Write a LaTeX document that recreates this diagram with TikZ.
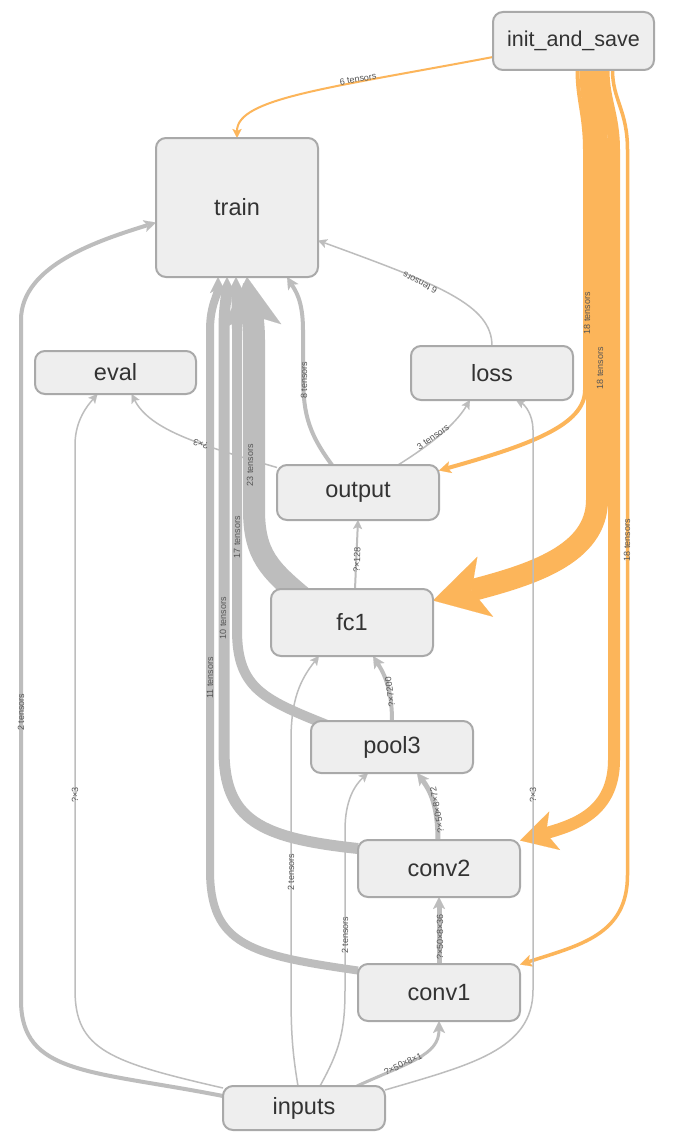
\documentclass[tikz,border=0pt]{standalone}
\usepackage{fontspec}
\setmainfont{Liberation Sans}
\usetikzlibrary{arrows.meta,backgrounds}
\definecolor{nodefill}{HTML}{EEEEEE}
\definecolor{nodeline}{HTML}{A9A9A9}
\definecolor{edgegray}{HTML}{BDBDBD}
\definecolor{edgeorange}{HTML}{FCB55A}
\definecolor{txt}{HTML}{333333}
\definecolor{lbl}{HTML}{555555}
\begin{document}
\begin{tikzpicture}[x=1pt,y=-1pt,
  opnode/.style={draw=nodeline,fill=nodefill,line width=2pt,rounded corners=10pt,
    font=\fontsize{23.5}{26}\selectfont,text=txt,inner sep=0pt,outer sep=0pt},
  gedge/.style={draw=edgegray},
  oedge/.style={draw=edgeorange},
  elabel/.style={font=\fontsize{9}{10}\selectfont,text=lbl,inner sep=0.5pt},
  tipS/.style={-{Stealth[length=9pt,width=9pt,inset=2pt,line width=0.1pt]}},
  tipM/.style={-{Stealth[length=12pt,width=12pt,inset=3pt,line width=0.1pt]}},
  tipL/.style={-{Stealth[length=16pt,width=16pt,inset=4pt,line width=0.1pt]}},
  tipXL/.style={-{Stealth[length=50pt,width=60pt,inset=12pt,line width=0.1pt]}},
  tipOL/.style={-{Stealth[length=36pt,width=40pt,inset=9pt,line width=0.1pt]}},
  tipOXL/.style={-{Stealth[length=54pt,width=62pt,inset=14pt,line width=0.1pt]}}
]
\useasboundingbox (0,0) rectangle (676,1148);

% nodes
\node[opnode,minimum width=161pt,minimum height=58pt,font=\fontsize{21.5}{24}\selectfont] (init) at (573.5,41) {init\_and\_save};
\node[opnode,minimum width=162pt,minimum height=139pt] (train) at (237,207.5) {train};
\node[opnode,minimum width=161pt,minimum height=43pt] (eval) at (115.5,372.5) {eval};
\node[opnode,minimum width=162pt,minimum height=54pt] (loss) at (492,373) {loss};
\node[opnode,minimum width=162pt,minimum height=55pt] (output) at (358,492.5) {output};
\node[opnode,minimum width=162pt,minimum height=67pt] (fc1) at (352,622.5) {fc1};
\node[opnode,minimum width=162pt,minimum height=52pt] (pool3) at (392,747) {pool3};
\node[opnode,minimum width=162pt,minimum height=57pt] (conv2) at (439,868.5) {conv2};
\node[opnode,minimum width=162pt,minimum height=57pt] (conv1) at (439,992.5) {conv1};
\node[opnode,minimum width=162pt,minimum height=44pt] (inputs) at (304,1108) {inputs};

\begin{scope}[on background layer]
\fill[white] (0,0) rectangle (676,1148);

% orange edges from init_and_save
\draw[oedge,line width=3.5pt,tipM] ([xshift=39pt]init.south) .. controls (612.5,100) and (627.5,110) .. (627.5,150) -- (627.5,875) .. controls (627.5,935) and (580,945) .. ([yshift=28pt]conv1.east);
\draw[oedge,line width=12pt,tipOL] ([xshift=30pt]init.south) .. controls (603.5,100) and (614,115) .. (614,150) -- (614,760) .. controls (614,812) and (575,825) .. ([yshift=28pt]conv2.east);
\draw[oedge,line width=22pt,tipOXL] ([xshift=17pt]init.south) .. controls (590.5,100) and (597,115) .. (597,150) -- (597,500) .. controls (597,555) and (530,575) .. ([yshift=22pt]fc1.east);
\draw[oedge,line width=4pt,tipM] ([xshift=4pt]init.south) .. controls (577.5,100) and (585,115) .. (585,150) -- (585,390) .. controls (585,425) and (530,445) .. ([yshift=22pt]output.east);
\draw[oedge,line width=2pt,tipS] ([yshift=-16pt]init.west) .. controls (330,88) and (237,98) .. (train.north);

% gray edges into train
\draw[gedge,line width=1.5pt,tipS] (loss.north) .. controls (492,305) and (440,285) .. ([yshift=-33pt]train.east);
\draw[gedge,line width=4pt,tipM] ([xshift=-26pt]output.north) .. controls (306,430) and (303,410) .. (303,370) -- (303,330) .. controls (303,300) and (295,290) .. ([xshift=50pt]train.south);
\draw[gedge,line width=8pt,tipL] ([yshift=22pt]conv1.west) .. controls (250,955) and (210,945) .. (210,870) -- (210,330) .. controls (210,305) and (218,295) .. ([xshift=-19pt]train.south);
\draw[gedge,line width=11pt,tipL] ([yshift=20pt]conv2.west) .. controls (260,838) and (224,820) .. (224,750) -- (224,330) .. controls (224,305) and (227,295) .. ([xshift=-10pt]train.south);
\draw[gedge,line width=10pt,tipL] ([xshift=-60pt,yshift=-6pt]pool3.north) .. controls (265,700) and (237,690) .. (237,630) -- (237,330) .. controls (237,305) and (236,295) .. ([xshift=-1pt]train.south);
\draw[gedge,line width=22pt,tipXL] ([xshift=-50pt,yshift=-8pt]fc1.north) .. controls (270,570) and (254,555) .. (254,510) -- (254,340) .. controls (254,315) and (249,300) .. ([xshift=10pt]train.south);
\draw[gedge,line width=4pt,tipM] ([yshift=12pt]inputs.west) .. controls (90,1070) and (21,1075) .. (21,1000) -- (21,320) .. controls (21,265) and (100,240) .. ([yshift=-15pt]train.west);

% eval, loss, output
\draw[gedge,line width=1.5pt,tipS] ([yshift=20pt]inputs.west) .. controls (110,1062) and (75,1050) .. (75,990) -- (75,445) .. controls (75,420) and (88,405) .. ([xshift=-18pt]eval.south);
\draw[gedge,line width=1.5pt,tipS] ([yshift=25pt]output.west) .. controls (200,445) and (150,430) .. ([xshift=16pt]eval.south);
\draw[gedge,line width=1.5pt,tipS] ([xshift=40pt]output.north) .. controls (430,445) and (455,425) .. ([xshift=-22pt]loss.south);
\draw[gedge,line width=1.5pt,tipS] ([yshift=18pt]inputs.east) .. controls (470,1065) and (533,1050) .. (533,990) -- (533,430) .. controls (533,415) and (525,405) .. ([xshift=24pt]loss.south);

% main chain
\draw[gedge,line width=2pt,tipS] ([xshift=3pt]fc1.north) -- (output.south);
\draw[gedge,line width=4pt,tipM] (pool3.north) .. controls (392,690) and (385,675) .. ([xshift=21pt]fc1.south);
\draw[gedge,line width=5pt,tipM] ([xshift=-1pt]conv2.north) .. controls (438,805) and (430,790) .. ([xshift=25pt]pool3.south);
\draw[gedge,line width=5pt,tipM] (conv1.north) -- (conv2.south);
\draw[gedge,line width=3pt,tipM] ([xshift=53pt]inputs.north) .. controls (410,1062) and (439,1055) .. (conv1.south);
\draw[gedge,line width=1.5pt,tipS] ([xshift=-6pt]inputs.north) .. controls (292,1050) and (291,1030) .. (291,990) -- (291,740) .. controls (291,700) and (300,680) .. ([xshift=-33pt]fc1.south);
\draw[gedge,line width=1.5pt,tipS] ([xshift=16pt]inputs.north) .. controls (340,1050) and (345,1030) .. (345,990) -- (345,830) .. controls (345,800) and (355,785) .. ([xshift=-24pt]pool3.south);

% labels
\node[elabel,rotate=10] (l1) at (358,79) {6 tensors};
\node[elabel,rotate=153] (l2) at (420,283) {6 tensors};
\node[elabel,rotate=90] (l3) at (304,380) {8 tensors};
\node[elabel,rotate=90] (l4) at (250,465) {23 tensors};
\node[elabel,rotate=90] (l5) at (237,537) {17 tensors};
\node[elabel,rotate=90] (l6) at (223,618) {10 tensors};
\node[elabel,rotate=90] (l7) at (210,678) {11 tensors};
\node[elabel,rotate=90] (l8) at (21,712) {2 tensors};
\node[elabel,rotate=90] (l9) at (75,795) {?×3};
\node[elabel,rotate=162] (l10) at (201,444) {?×3};
\node[elabel,rotate=35] (l11) at (433,437) {3 tensors};
\node[elabel,rotate=88] (l12) at (357,560) {?×128};
\node[elabel,rotate=98] (l13) at (390,692) {?×7200};
\node[elabel,rotate=100] (l14) at (437,810) {?×50×8×72};
\node[elabel,rotate=90] (l15) at (440,937) {?×50×8×36};
\node[elabel,rotate=25] (l16) at (403,1064) {?×50×8×1};
\node[elabel,rotate=90] (l17) at (291,872) {2 tensors};
\node[elabel,rotate=90] (l18) at (345,935) {2 tensors};
\node[elabel,rotate=90] (l19) at (533,795) {?×3};
\node[elabel,rotate=90] (l20) at (587,313) {18 tensors};
\node[elabel,rotate=90] (l21) at (600,368) {18 tensors};
\node[elabel,rotate=90] (l22) at (627,540) {18 tensors};
\end{scope}
\end{tikzpicture}
\end{document}
